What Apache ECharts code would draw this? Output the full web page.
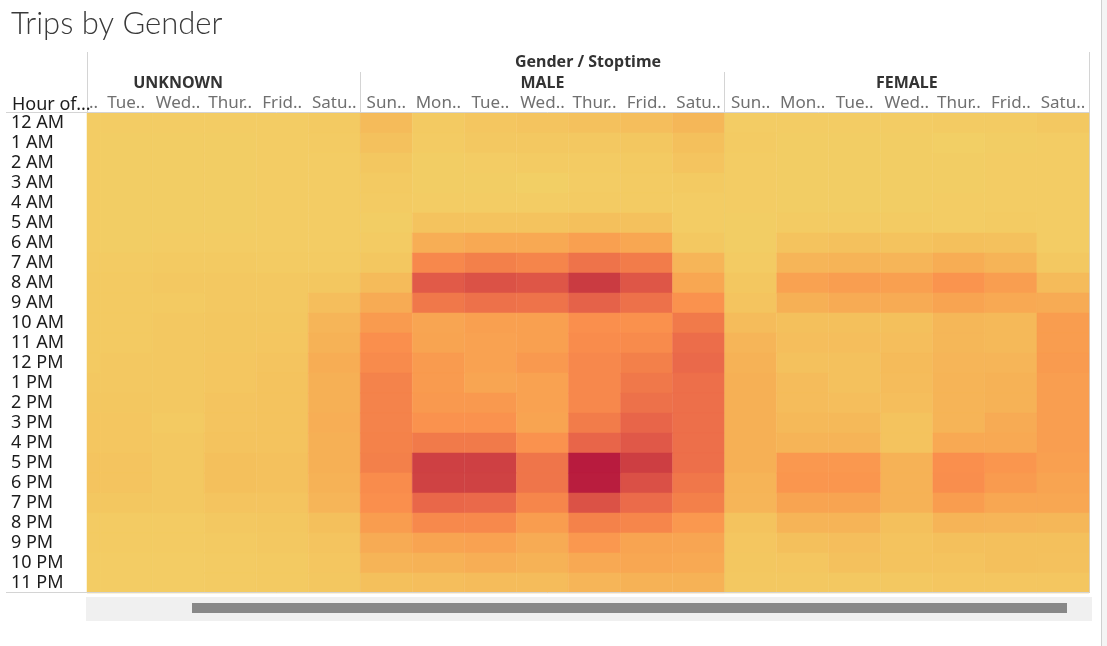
<!DOCTYPE html>
<html>
<head>
<meta charset="utf-8">
<title>Trips by Gender</title>
<script src="https://cdn.jsdelivr.net/npm/echarts@6/dist/echarts.min.js"></script>
<style>
  html, body { margin: 0; padding: 0; background: #fff; }
  #main { width: 1107px; height: 646px; }
</style>
</head>
<body>
<div id="main"></div>
<script>
// 数据
const hours = ['12 AM', '1 AM', '2 AM', '3 AM', '4 AM', '5 AM', '6 AM', '7 AM', '8 AM', '9 AM', '10 AM', '11 AM',
  '12 PM', '1 PM', '2 PM', '3 PM', '4 PM', '5 PM', '6 PM', '7 PM', '8 PM', '9 PM', '10 PM', '11 PM'];
const days = ['Sun..', 'Mon..', 'Tue..', 'Wed..', 'Thur..', 'Frid..', 'Satu..'];
const genders = ['UNKNOWN', 'MALE', 'FEMALE'];

// rows = hour, cols = Sun..Sat (UNKNOWN Sunday is scrolled out of view)
const unknownTrips = [
  [null, 3, 3, 3, 3, 3, 5], [null, 3, 2, 2, 2, 3, 4], [null, 3, 2, 2, 2, 3, 3], [null, 3, 2, 2, 2, 3, 3],
  [null, 3, 2, 2, 2, 3, 3], [null, 3, 2, 2, 2, 3, 3], [null, 3, 2, 3, 3, 3, 3], [null, 4, 4, 5, 5, 4, 4],
  [null, 5, 5, 6, 6, 6, 7], [null, 5, 5, 5, 6, 6, 13], [null, 5, 5, 6, 7, 7, 18], [null, 5, 5, 6, 7, 8, 20],
  [null, 5, 6, 6, 8, 9, 23], [null, 6, 6, 6, 8, 10, 21], [null, 7, 7, 6, 9, 10, 21], [null, 8, 8, 5, 9, 10, 22],
  [null, 8, 8, 6, 10, 10, 21], [null, 9, 9, 6, 12, 11, 21], [null, 9, 9, 6, 12, 11, 20], [null, 7, 7, 6, 9, 9, 18],
  [null, 4, 4, 4, 6, 7, 12], [null, 4, 4, 4, 5, 6, 9], [null, 3, 3, 3, 4, 5, 8], [null, 3, 3, 3, 4, 5, 7]
];
const maleTrips = [
  [15, 5, 8, 9, 11, 13, 17], [11, 4, 6, 6, 6, 7, 12], [7, 2, 3, 4, 4, 5, 9], [5, 2, 2, 1, 3, 4, 5],
  [4, 3, 3, 3, 4, 4, 3], [2, 10, 10, 10, 12, 11, 3], [4, 22, 25, 25, 30, 26, 6], [7, 45, 50, 47, 57, 52, 18],
  [15, 70, 74, 72, 86, 72, 26], [24, 54, 58, 57, 66, 58, 38], [33, 27, 30, 30, 40, 39, 53], [40, 28, 29, 30, 42, 43, 60],
  [43, 33, 29, 34, 45, 50, 62], [48, 33, 27, 29, 45, 54, 59], [48, 34, 34, 29, 45, 58, 59], [48, 38, 38, 28, 52, 64, 59],
  [49, 53, 53, 38, 64, 71, 59], [50, 83, 83, 56, 100, 84, 59], [42, 82, 82, 56, 99, 75, 55], [40, 63, 62, 46, 74, 61, 50],
  [32, 44, 44, 32, 49, 46, 35], [24, 28, 29, 24, 35, 28, 27], [19, 20, 22, 20, 25, 26, 25], [12, 13, 14, 14, 18, 20, 20]
];
const femaleTrips = [
  [3, 3, 3, 3, 4, 4, 6], [4, 2, 2, 2, 1, 2, 3], [3, 2, 2, 2, 2, 3, 3], [3, 2, 2, 2, 2, 3, 3],
  [3, 2, 2, 2, 3, 3, 3], [2, 4, 4, 4, 3, 4, 3], [2, 10, 11, 10, 12, 11, 3], [4, 18, 19, 18, 23, 19, 6],
  [7, 29, 31, 30, 37, 31, 15], [9, 21, 24, 24, 28, 25, 24], [14, 12, 12, 12, 17, 16, 32], [18, 13, 13, 13, 17, 16, 32],
  [20, 11, 11, 15, 18, 18, 33], [21, 14, 11, 14, 19, 20, 31], [21, 14, 13, 13, 19, 20, 31], [21, 16, 16, 10, 19, 24, 31],
  [21, 19, 19, 10, 25, 25, 31], [21, 35, 35, 20, 40, 36, 30], [19, 36, 36, 20, 41, 33, 28], [18, 28, 28, 20, 32, 26, 26],
  [10, 19, 19, 12, 19, 18, 17], [8, 12, 13, 10, 12, 12, 12], [7, 8, 11, 10, 10, 12, 11], [6, 6, 6, 6, 8, 8, 8]
];

const FONT = 'Noto Sans';
const visibleMin = 1.25;   // Tableau pane is scrolled: only a quarter of UNKNOWN/Mon shows
const visibleMax = 20.5;

// 拼成 [col, hour, value]
const cells = [];
[unknownTrips, maleTrips, femaleTrips].forEach(function (rows, g) {
  rows.forEach(function (row, h) {
    row.forEach(function (v, d) {
      if (v !== null) cells.push([g * 7 + d, h, v]);
    });
  });
});

const dayTicks = [1.375];
for (let i = 2; i <= 20; i++) dayTicks.push(i);

function renderItem(params, api) {
  const c = api.coord([api.value(0), api.value(1)]);
  const s = api.size([1, 1]);
  const shape = echarts.graphic.clipRectByRect(
    { x: c[0] - s[0] / 2, y: c[1] - s[1] / 2, width: s[0], height: s[1] },
    { x: params.coordSys.x, y: params.coordSys.y, width: params.coordSys.width, height: params.coordSys.height }
  );
  return shape && {
    type: 'rect',
    shape: shape,
    style: { fill: api.visual('color'), stroke: api.visual('color'), lineWidth: 0.5 }
  };
}

const myChart = echarts.init(document.getElementById('main'));

const option = {
  animation: false,
  textStyle: { fontFamily: FONT },
  title: [
    { text: 'Trips by Gender', left: 6, top: 3, textStyle: { fontFamily: 'Lato', fontSize: 31, fontWeight: 300, color: '#3a3a3a' } },
    { text: 'Hour of...', left: 7, top: 91, textStyle: { fontFamily: FONT, fontSize: 18, fontWeight: 'normal', color: '#1c1c1c' } }
  ],
  grid: { left: 87, right: 18, top: 113, height: 480 },
  visualMap: {
    show: false,
    min: 0,
    max: 100,
    dimension: 2,
    seriesIndex: 0,
    inRange: {
      color: ['#f2d066', '#f4c35e', '#f6b256', '#f9a050', '#fa8f4d', '#f3804a', '#ec6d4a', '#e15a48', '#d24544', '#c5343f', '#b81b3e']
    }
  },
  xAxis: [
    {
      type: 'value',
      position: 'top',
      min: visibleMin,
      max: visibleMax,
      name: 'Gender / Stoptime',
      nameLocation: 'middle',
      nameGap: 43,
      nameTextStyle: { fontFamily: FONT, fontSize: 16, fontWeight: 'bold', color: '#333' },
      axisLine: { show: false },
      axisTick: { show: true, customValues: [visibleMin, visibleMax], length: 61, lineStyle: { color: '#d4d4d4' } },
      splitLine: { show: true, lineStyle: { color: '#d4d4d4' } },
      axisLabel: {
        customValues: dayTicks,
        margin: 1,
        fontFamily: FONT,
        fontSize: 17,
        color: '#707070',
        formatter: function (v) {
          if (v < 1.5) return '..';
          return days[Math.round(v) % 7];
        }
      }
    },
    {
      type: 'value',
      position: 'top',
      min: visibleMin,
      max: visibleMax,
      axisLine: { show: false },
      axisTick: { show: true, customValues: [6.5, 13.5], length: 41, lineStyle: { color: '#d4d4d4' } },
      splitLine: { show: true, lineStyle: { color: '#d4d4d4' } },
      axisLabel: {
        customValues: [3, 10, 17],
        margin: 22,
        fontFamily: FONT,
        fontSize: 16,
        fontWeight: 'bold',
        color: '#333',
        formatter: function (v) { return genders[Math.round((v - 3) / 7)]; }
      }
    }
  ],
  yAxis: {
    type: 'category',
    inverse: true,
    data: hours,
    axisLine: { show: false },
    axisTick: { show: false },
    splitLine: { show: false },
    axisLabel: { interval: 0, hideOverlap: false, align: 'left', margin: 76, fontFamily: FONT, fontSize: 18, color: '#1c1c1c' }
  },
  series: [{
    type: 'custom',
    name: 'Trips',
    renderItem: renderItem,
    encode: { x: 0, y: 1 },
    xAxisIndex: 0,
    data: cells,
    z: 1
  }],
  graphic: [
    { type: 'line', shape: { x1: 6, y1: 112.5, x2: 1089, y2: 112.5 }, style: { stroke: '#d4d4d4', lineWidth: 1 }, z: 10 },
    { type: 'line', shape: { x1: 6, y1: 592.5, x2: 1089, y2: 592.5 }, style: { stroke: '#d4d4d4', lineWidth: 1 }, z: 10 },
    { type: 'line', shape: { x1: 1101.5, y1: 0, x2: 1101.5, y2: 646 }, style: { stroke: '#cfcfcf', lineWidth: 1 } },
    { type: 'rect', shape: { x: 1102, y: 0, width: 5, height: 646 }, style: { fill: '#f4f4f4' } },
    { type: 'rect', shape: { x: 86, y: 597, width: 1006, height: 24 }, style: { fill: '#f0f0f0' } },
    { type: 'rect', shape: { x: 192, y: 603, width: 875, height: 10 }, style: { fill: '#888888' } }
  ]
};

myChart.setOption(option);
</script>
</body>
</html>
